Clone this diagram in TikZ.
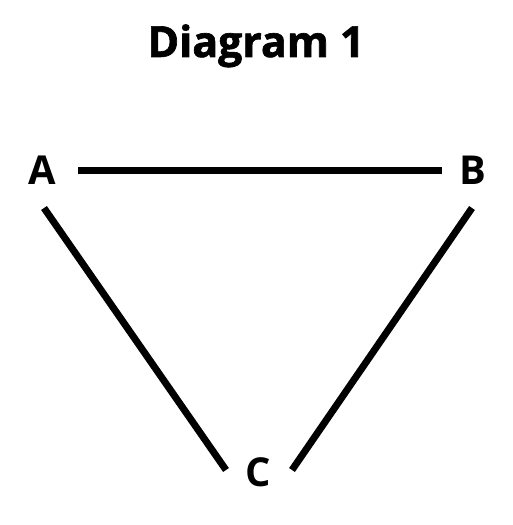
\documentclass[tikz,border=0pt]{standalone}
\usepackage{fontspec}
\setmainfont{Open Sans}
\newfontfamily\heavyfont{Open Sans}[BoldFeatures={FakeBold=1.5}]
\begin{document}
\begin{tikzpicture}[x=1bp,y=-1bp,
  label/.style={font=\bfseries\fontsize{40}{40}\selectfont, inner sep=0pt, anchor=base},
  title/.style={font=\heavyfont\bfseries\fontsize{43}{43}\selectfont, inner sep=0pt, anchor=base},
  edge/.style={line width=7bp}]
\useasboundingbox[fill=white] (0,0) rectangle (513,525);
\node[title] (T) at (256,57) {Diagram 1};
\node[label] (A) at (42,185) {A};
\node[label] (B) at (473,185) {B};
\node[label] (C) at (258,486) {C};
\coordinate (ab1) at (78,171);
\coordinate (ab2) at (442,171);
\coordinate (ac1) at (44,208);
\coordinate (ac2) at (226,470);
\coordinate (bc1) at (472,208);
\coordinate (bc2) at (292,470);
\draw[edge] (ab1) -- (ab2);
\draw[edge] (ac1) -- (ac2);
\draw[edge] (bc1) -- (bc2);
\end{tikzpicture}
\end{document}
